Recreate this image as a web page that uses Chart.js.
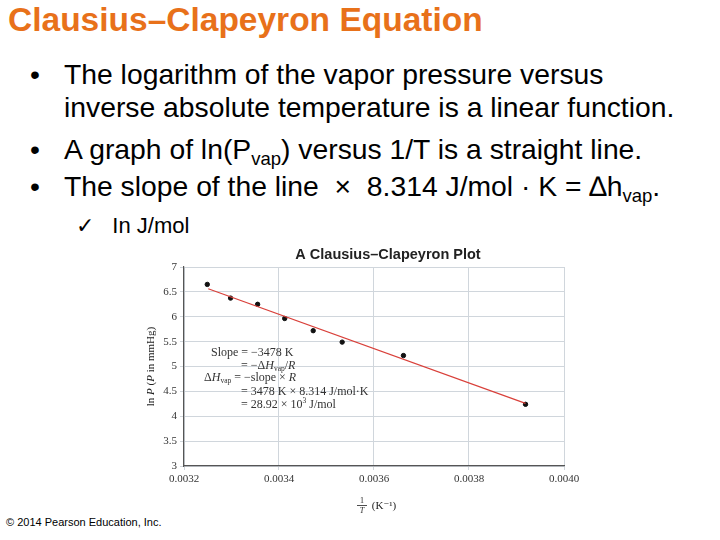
<!DOCTYPE html>
<html><head><meta charset="utf-8">
<script src="https://cdn.jsdelivr.net/npm/chart.js@4/dist/chart.umd.min.js"></script>
<style>
body{margin:0;width:720px;height:540px;position:relative;background:#fff;font-family:"Liberation Sans",Arial,sans-serif;overflow:hidden}
.t{position:absolute;white-space:nowrap;color:#000}
#h{left:8px;top:1px;font-size:33.5px;font-weight:bold;color:#E8711A}
.b{font-size:28.3px;left:64px}
.b span.d{position:absolute;left:-34px}
sub{font-size:18.5px;vertical-align:-6px;line-height:0}
#c{position:absolute;left:140px;top:240px}
</style></head><body>
<div class="t" id="h">Clausius–Clapeyron Equation</div>
<div class="t b" style="top:58px"><span class="d">•</span>The logarithm of the vapor pressure versus</div>
<div class="t b" style="top:91px">inverse absolute temperature is a linear function.</div>
<div class="t b" style="top:133px"><span class="d">•</span>A graph of ln(P<sub>vap</sub>) versus 1/T is a straight line.</div>
<div class="t b" style="top:170px"><span class="d">•</span>The slope of the line &nbsp;× &nbsp;8.314 J/mol · K = ∆h<sub>vap</sub>.</div>
<div class="t" style="top:213px;left:76px;font-size:22px">✓&nbsp;&nbsp; In J/mol</div>
<div class="t" style="top:516px;left:6px;font-size:11px">© 2014 Pearson Education, Inc.</div>
<canvas id="c" width="450" height="280"></canvas>
<script>
const invT = [0.003249, 0.003298, 0.003355, 0.003412, 0.003472, 0.003533, 0.003662, 0.003919];
const lnP = [6.65, 6.375, 6.25, 5.965, 5.72, 5.49, 5.22, 4.24];
const fitX = [0.003251, 0.003919];
const fitY = [6.563, 4.26];
const xTicks = ["0.0032", "0.0034", "0.0036", "0.0038", "0.0040"];

const serif = '"Liberation Serif", "DejaVu Serif", serif';

function run(ctx, x, y, parts) {
  // parts: [text, fontSize, dy, italic]
  parts.forEach(p => {
    ctx.font = (p[3] ? "italic " : "") + p[1] + "px " + serif;
    ctx.fillText(p[0], x, y + (p[2] || 0));
    x += ctx.measureText(p[0]).width;
  });
}

const extras = {
  id: "extras",
  afterDraw(chart) {
    const ctx = chart.ctx;
    const a = chart.chartArea;
    ctx.save();
    ctx.fillStyle = "#222";
    ctx.font = "bold 14.5px 'Liberation Sans', Arial";
    ctx.textAlign = "center";
    ctx.fillText("A Clausius–Clapeyron Plot", (a.left + a.right) / 2 + 14, 19);
    // x title
    const cx = (a.left + a.right) / 2;
    ctx.font = "8px " + serif;
    ctx.fillText("1", cx - 12, a.bottom + 37);
    ctx.fillRect(cx - 17, a.bottom + 39, 10, 0.8);
    ctx.font = "italic 8px " + serif;
    ctx.fillText("T", cx - 12, a.bottom + 47);
    ctx.font = "11px " + serif;
    ctx.fillText("(K⁻¹)", cx + 10, a.bottom + 43);
    // y title
    ctx.translate(10, (a.top + a.bottom) / 2);
    ctx.rotate(-Math.PI / 2);
    ctx.textAlign = "left";
    const parts = [["ln ", 11], ["P", 11, 0, true], [" (", 11], ["P", 11, 0, true], [" in mmHg)", 11]];
    let w = 0;
    parts.forEach(p => { ctx.font = (p[3] ? "italic " : "") + "11px " + serif; w += ctx.measureText(p[0]).width; });
    run(ctx, -w / 2, 4, parts);
    ctx.restore();
    // annotation
    ctx.save();
    ctx.fillStyle = "#333";
    const f = 12;
    run(ctx, 71, 116, [["Slope = −3478 K", f]]);
    run(ctx, 101, 129, [["= −Δ", f], ["H", f, 0, true], ["vap", 7.5, 2], ["/", f], ["R", f, 0, true]]);
    run(ctx, 64, 141, [["Δ", f], ["H", f, 0, true], ["vap", 7.5, 2], [" = −slope × ", f], ["R", f, 0, true]]);
    run(ctx, 101, 155, [["= 3478 K × 8.314 J/mol·K", f]]);
    run(ctx, 101, 168, [["= 28.92 × 10", f], ["3", 7.5, -5], [" J/mol", f]]);
    ctx.restore();
  }
};

new Chart(document.getElementById("c"), {
  type: "scatter",
  data: {
    datasets: [{
      type: "line",
      data: fitX.map((x, i) => ({ x, y: fitY[i] })),
      borderColor: "#d9403a",
      borderWidth: 1.2,
      pointRadius: 0
    }, {
      data: invT.map((x, i) => ({ x, y: lnP[i] })),
      backgroundColor: "#111",
      borderColor: "#111",
      pointRadius: 2.2
    }]
  },
  plugins: [extras],
  options: {
    responsive: false,
    animation: false,
    layout: { padding: { top: 27, right: 26, left: 0, bottom: 0 } },
    plugins: { legend: { display: false }, tooltip: { enabled: false } },
    scales: {
      x: {
        type: "linear", min: 0.0032, max: 0.0040,
        afterFit: s => { s.height = 54; },
        afterBuildTicks: s => { s.ticks = xTicks.map(v => ({ value: parseFloat(v) })); },
        ticks: { callback: (v, i) => xTicks[i], color: "#333", font: { family: serif, size: 11 }, maxRotation: 0 },
        grid: { color: "#d0d6dc", tickLength: 4 },
        border: { color: "#555", width: 1.2 }
      },
      y: {
        min: 3, max: 7,
        afterFit: s => { s.width = 44; },
        ticks: { stepSize: 0.5, callback: v => String(v), color: "#333", font: { family: serif, size: 11 } },
        grid: { color: "#d0d6dc", tickLength: 4 },
        border: { color: "#555", width: 1.2 }
      }
    }
  }
});
</script>
</body></html>
